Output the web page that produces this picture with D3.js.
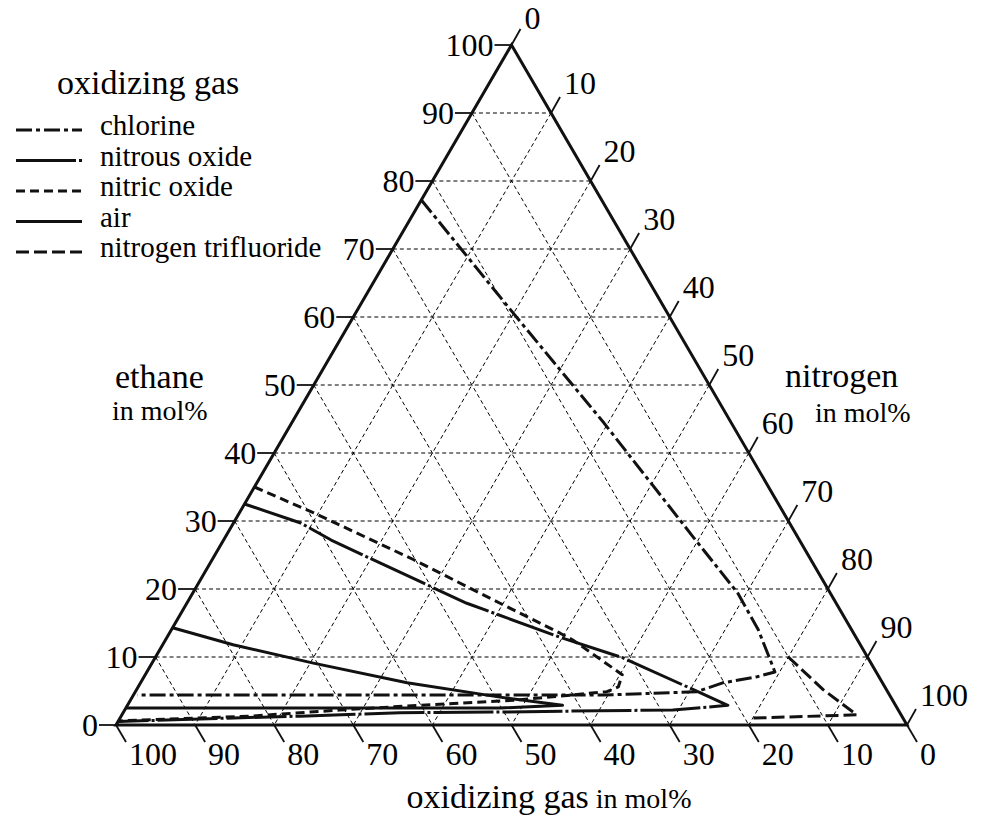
<!DOCTYPE html>
<html>
<head>
<meta charset="utf-8">
<script src="https://cdn.jsdelivr.net/npm/d3@7"></script>
<style>
  body { margin: 0; background: #fff; }
  svg { display: block; font-family: "Liberation Serif", "Times New Roman", serif; }
</style>
</head>
<body>
<div id="chart"></div>
<script>
// tick values shared by the three axes, mol%
const tickValues = [0, 10, 20, 30, 40, 50, 60, 70, 80, 90, 100];
const gridValues = [10, 20, 30, 40, 50, 60, 70, 80, 90];

// explosion limit curves, points are [ethane, oxidizing gas, nitrogen] in mol%
const chlorine = [
  [77.2, 22.8, 0], [60.6, 19.5, 19.9], [44.4, 16.1, 39.5], [27.6, 13.2, 59.2],
  [19.4, 11.7, 68.9], [14.0, 11.8, 74.2], [9.6, 12.5, 77.9], [7.8, 12.8, 79.4],
  [7.1, 15.4, 77.5], [6.2, 20.2, 73.6], [4.9, 24.1, 71.0], [4.4, 36.2, 59.4],
  [4.4, 60.0, 35.6], [4.4, 95.1, 0.5]
];
const nitrousOxide = [
  [32.5, 67.5, 0], [29.7, 61.8, 8.5], [27.2, 59.2, 13.6], [24.7, 55.9, 19.4],
  [17.9, 46.7, 35.4], [12.9, 37.4, 49.7], [9.9, 31.0, 59.1], [2.9, 21.2, 75.9],
  [2.2, 28.5, 69.3], [2.1, 37.8, 60.1], [1.9, 50.5, 47.6], [1.8, 63.2, 35.0],
  [1.3, 76.1, 22.6], [0.9, 88.9, 10.2], [0.5, 99.5, 0]
];
const nitricOxide = [
  [35.0, 65.0, 0], [31.2, 59.4, 9.4], [24.3, 50.2, 25.5], [17.9, 42.5, 39.6],
  [13.5, 37.1, 49.4], [12.5, 36.0, 51.5], [7.4, 32.3, 60.3], [5.6, 33.7, 60.7],
  [4.9, 35.5, 59.6], [3.7, 47.1, 49.2], [2.9, 60.1, 37.0], [2.2, 70.6, 27.2],
  [1.3, 82.4, 16.3], [0.6, 99.4, 0]
];
const air = [
  [14.3, 85.7, 0], [11.8, 79.3, 8.9], [9.1, 70.5, 20.4], [6.2, 60.1, 33.7],
  [4.1, 49.4, 46.5], [2.9, 42.1, 55.0], [2.5, 50.2, 47.3], [2.5, 75.5, 22.0],
  [2.5, 97.5, 0]
];
const nitrogenTrifluoride = [
  [10.0, 10.0, 80.0], [5.2, 8.0, 86.8], [1.5, 5.6, 92.9], [1.0, 19.3, 79.7]
];

const seriesNames = ["chlorine", "nitrous oxide", "nitric oxide", "air", "nitrogen trifluoride"];
const seriesData = [chlorine, nitrousOxide, nitricOxide, air, nitrogenTrifluoride];

// line styles for each gas
const dashStyle = {
  "chlorine": "16,4,4,4",
  "nitrous oxide": "60,3,3,3",
  "nitric oxide": "9,5",
  "air": null,
  "nitrogen trifluoride": "13,5"
};

const width = 991, height = 830;

// the triangle: base from x 116 to 907 at y 725, apex at y 45
const xScale = d3.scaleLinear().domain([0, 100]).range([116, 907]);
const yScale = d3.scaleLinear().domain([0, 100]).range([725, 45]);

// ternary point -> screen
const px = d => xScale(d[2] + d[0] / 2);
const py = d => yScale(d[0]);

const svg = d3.select("#chart").append("svg")
  .attr("width", width)
  .attr("height", height);

svg.append("rect").attr("width", width).attr("height", height).attr("fill", "#fff");

// dashed grid
const gridLines = [];
gridValues.forEach(v => {
  gridLines.push([[v, 100 - v, 0], [v, 0, 100 - v]]);      // constant ethane
  gridLines.push([[100 - v, v, 0], [0, v, 100 - v]]);      // constant oxidizing gas
  gridLines.push([[100 - v, 0, v], [0, 100 - v, v]]);      // constant nitrogen
});

svg.append("g")
  .selectAll("line")
  .data(gridLines)
  .join("line")
  .attr("x1", d => px(d[0])).attr("y1", d => py(d[0]))
  .attr("x2", d => px(d[1])).attr("y2", d => py(d[1]))
  .attr("stroke", "#000")
  .attr("stroke-width", 1)
  .attr("stroke-dasharray", "4,3");

// triangle frame
const corners = [[100, 0, 0], [0, 100, 0], [0, 0, 100]];
svg.append("path")
  .attr("d", "M" + corners.map(d => px(d) + "," + py(d)).join("L") + "Z")
  .attr("fill", "none")
  .attr("stroke", "#111")
  .attr("stroke-width", 3)
  .attr("stroke-linejoin", "miter");

// axes: ticks and labels
const axes = svg.append("g").attr("stroke", "#111").attr("stroke-width", 1.8);
const labelSize = 32;

// ethane on the left edge
tickValues.forEach(v => {
  const p = [v, 100 - v, 0];
  const x = px(p), y = py(p);
  axes.append("line").attr("x1", x).attr("y1", y).attr("x2", x - 17).attr("y2", y);
  svg.append("text")
    .attr("x", x - 18).attr("y", y)
    .attr("text-anchor", "end")
    .attr("dominant-baseline", "central")
    .attr("font-size", labelSize)
    .text(v);
});

// nitrogen on the right edge
tickValues.forEach(v => {
  const p = [100 - v, 0, v];
  const x = px(p), y = py(p);
  const ex = x + 9, ey = y - 16;
  axes.append("line").attr("x1", x).attr("y1", y).attr("x2", ex).attr("y2", ey);
  svg.append("text")
    .attr("x", ex + 4).attr("y", Math.max(ey - 3, 29))
    .attr("font-size", labelSize)
    .text(v);
});

// oxidizing gas on the bottom edge
tickValues.forEach(v => {
  const p = [0, v, 100 - v];
  const x = px(p), y = py(p);
  const ex = x + 10, ey = y + 17;
  axes.append("line").attr("x1", x).attr("y1", y).attr("x2", ex).attr("y2", ey);
  svg.append("text")
    .attr("x", ex + 3).attr("y", ey + 23)
    .attr("font-size", labelSize)
    .text(v);
});

// axis titles
function title(x, y, big, small, anchor, sx, sy) {
  const t = svg.append("text").attr("x", x).attr("y", y).attr("text-anchor", anchor);
  t.append("tspan").attr("font-size", 34).text(big);
  if (sx === undefined) {
    t.append("tspan").attr("font-size", 28).text(" " + small);
  } else {
    svg.append("text").attr("x", sx).attr("y", sy).attr("font-size", 28).text(small);
  }
}
title(115, 388, "ethane", "in mol%", "start", 112, 420);
title(785, 387, "nitrogen", "in mol%", "start", 815, 422);
title(549, 808, "oxidizing gas", "in mol%", "middle");

// curves
const line = d3.line().x(px).y(py);

svg.append("g")
  .selectAll("path")
  .data(seriesData)
  .join("path")
  .attr("d", d => line(d))
  .attr("fill", "none")
  .attr("stroke", "#111")
  .attr("stroke-width", 3)
  .attr("stroke-linejoin", "round")
  .attr("stroke-dasharray", (d, i) => dashStyle[seriesNames[i]]);

// legend
const legend = svg.append("g");
legend.append("text")
  .attr("x", 57).attr("y", 94)
  .attr("font-size", 34)
  .text("oxidizing gas");

const item = legend.selectAll("g.item")
  .data(seriesNames)
  .join("g")
  .attr("class", "item")
  .attr("transform", (d, i) => "translate(0," + (135 + i * 30.5) + ")");

item.append("line")
  .attr("x1", 16).attr("x2", 82)
  .attr("y1", -5).attr("y2", -5)
  .attr("stroke", "#111")
  .attr("stroke-width", 2.8)
  .attr("stroke-dasharray", d => dashStyle[d]);

item.append("text")
  .attr("x", 100).attr("y", 0)
  .attr("font-size", 29)
  .text(d => d);
</script>
</body>
</html>
